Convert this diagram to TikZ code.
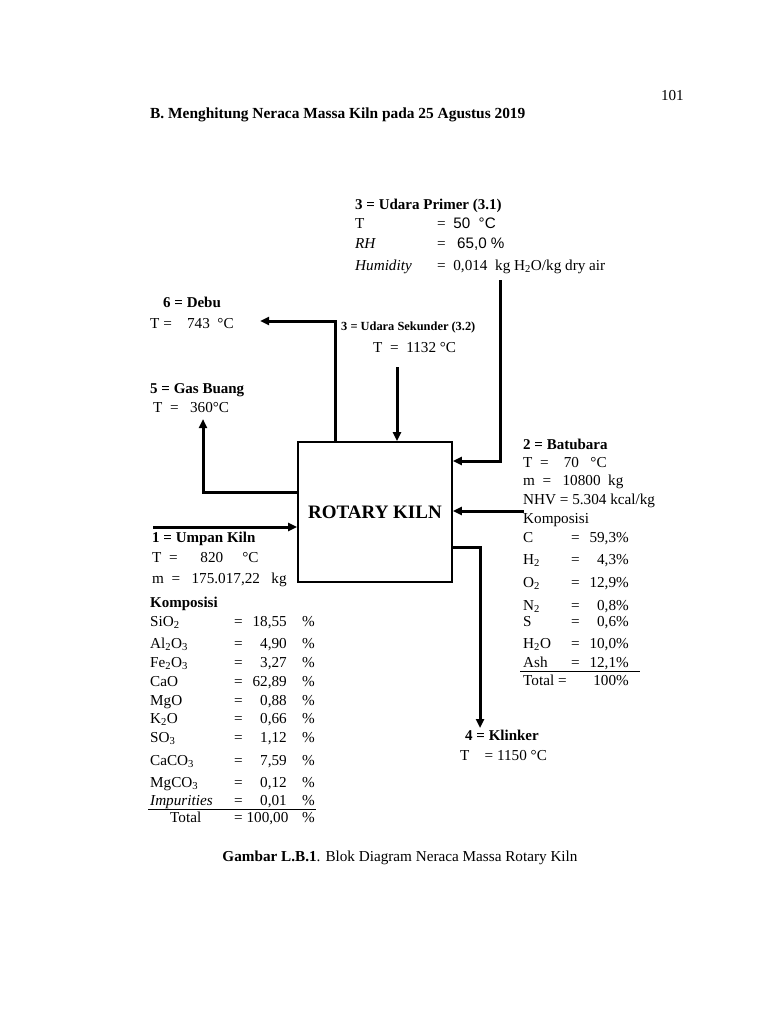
\documentclass[tikz,border=0pt]{standalone}
\usepackage{fontspec}
\setmainfont{Liberation Serif}
\newfontfamily\arialf{Liberation Sans}
\usetikzlibrary{arrows.meta}
\begin{document}
\begin{tikzpicture}[x=1pt,y=-1pt,
  txt/.style={anchor=base west,inner sep=0pt,font=\fontsize{15.2}{16}\selectfont},
  txr/.style={anchor=base east,inner sep=0pt,font=\fontsize{15.2}{16}\selectfont},
  hd/.style={anchor=base west,inner sep=0pt,font=\fontsize{15}{16}\selectfont\bfseries},
  flow/.style={line width=3pt,-{Triangle[length=9pt,width=8pt]}}]
\useasboundingbox (0,0) rectangle (768,1024);
% page number and title
\node[txr] (pg) at (684,101) {101};
\node[hd,font=\fontsize{15.4}{16}\selectfont\bfseries] (title) at (150,119) {B. Menghitung Neraca Massa Kiln pada 25 Agustus 2019};
% kiln box
\node[draw,line width=1.8pt,minimum width=154pt,minimum height=140pt,inner sep=0pt,
  font=\fontsize{19}{20}\selectfont\bfseries] (kiln) at (375,512) {ROTARY KILN};
% Udara primer
\node[hd] (up) at (355,210) {3 = Udara Primer (3.1)};
\node[txt] (upT) at (355,229) {T};
\node[txt] (upTv) at (437,229) {=\ \ {\arialf 50\ \ °C}};
\node[txt] (upR) at (355,248) {\itshape RH};
\node[txt] (upRv) at (437,248) {=\ \ \ {\arialf 65,0 \%}};
\node[txt] (upH) at (355,270) {\itshape Humidity};
\node[txt] (upHv) at (437,270) {=\ \ 0,014\ \ kg H\textsubscript{2}O/kg dry air};
% Debu
\node[hd] (db) at (163,307) {6 = Debu};
\node[txt] (dbT) at (150,328) {T =\ \ \ \ 743\ \ °C};
% Udara sekunder
\node[hd,font=\fontsize{12.4}{13}\selectfont\bfseries] (us) at (341,330) {3 = Udara Sekunder (3.2)};
\node[txt] (usT) at (373,352) {T\ \ =\ \ 1132 °C};
% Gas buang
\node[hd] (gb) at (150,393) {5 = Gas Buang};
\node[txt] (gbT) at (153,412) {T\ \ =\ \ \ 360°C};
% Batubara
\node[hd] (bb) at (523,449) {2 = Batubara};
\node[txt] (bbT) at (523,467) {T\ \ =\ \ \ \ 70\ \ \ °C};
\node[txt] (bbm) at (523,485) {m\ \ =\ \ \ 10800\ \ kg};
\node[txt] (bbN) at (523,504) {NHV = 5.304 kcal/kg};
\node[txt] (bbK) at (523,523) {Komposisi};
\foreach \n/\v/\y [count=\i] in {C/{59,3\%}/542, H\textsubscript{2}/{4,3\%}/564, O\textsubscript{2}/{12,9\%}/587, N\textsubscript{2}/{0,8\%}/610, S/{0,6\%}/626, H\textsubscript{2}O/{10,0\%}/648, Ash/{12,1\%}/667}{
  \node[txt] (bbn\i) at (523,\y) {\n};
  \node[txt] (bbe\i) at (571,\y) {=};
  \node[txr] (bbv\i) at (629,\y) {\v};
}
\coordinate (bbl1) at (520,671);
\coordinate (bbl2) at (640,671);
\draw[line width=0.9pt] (bbl1) -- (bbl2);
\node[txt] (bbtot) at (523,685) {Total =};
\node[txr] (bbtotv) at (629,685) {100\%};
% Umpan kiln
\node[hd] (uk) at (152,542) {1 = Umpan Kiln};
\node[txt] (ukT) at (152,562) {T\ \ =\ \ \ \ \ \ 820\ \ \ \ \ °C};
\node[txt] (ukm) at (152,583) {m\ \ =\ \ \ 175.017,22\ \ \ kg};
\node[hd] (ukK) at (150,607) {Komposisi};
\foreach \n/\v/\y [count=\i] in {SiO\textsubscript{2}/{18,55}/626, Al\textsubscript{2}O\textsubscript{3}/{4,90}/648, Fe\textsubscript{2}O\textsubscript{3}/{3,27}/667, CaO/{62,89}/686, MgO/{0,88}/705, K\textsubscript{2}O/{0,66}/723, SO\textsubscript{3}/{1,12}/742, CaCO\textsubscript{3}/{7,59}/765, MgCO\textsubscript{3}/{0,12}/787, \textit{Impurities}/{0,01}/805}{
  \node[txt] (ukn\i) at (150,\y) {\n};
  \node[txt] (uke\i) at (234,\y) {=};
  \node[txr] (ukv\i) at (287,\y) {\v};
  \node[txt] (ukp\i) at (302,\y) {\%};
}
\coordinate (ukl1) at (148,809);
\coordinate (ukl2) at (316,809);
\draw[line width=0.9pt] (ukl1) -- (ukl2);
\node[txt] (uktot) at (170,822) {Total};
\node[txt] (uktote) at (234,822) {= 100,00};
\node[txt] (uktotp) at (302,822) {\%};
% Klinker
\node[hd] (kl) at (465,740) {4 = Klinker};
\node[txt] (klT) at (460,760) {T\ \ \ \ = 1150 °C};
% caption
\node[anchor=base,inner sep=0pt,font=\fontsize{15.2}{16}\selectfont] (cap) at (400,861) {\textbf{Gambar L.B.1}. Blok Diagram Neraca Massa Rotary Kiln};
% connectors
\coordinate (debuA) at (335,321);
\coordinate (debuE) at (260,321);
\draw[flow] (kiln.north west -| debuA) -- (debuA) -- (debuE);
\coordinate (usS) at (397,367);
\draw[flow] (usS) -- (usS |- kiln.north);
\coordinate (gbA) at (203,492);
\coordinate (gbE) at (203,419);
\draw[flow] (kiln.west |- gbA) -- (gbA) -- (gbE);
\coordinate (ukS) at (153,527);
\draw[flow] (ukS) -- (ukS -| kiln.west);
\coordinate (upS) at (500,280);
\coordinate (upA) at (500,461);
\draw[flow] (upS) -- (upA) -- (upA -| kiln.east);
\coordinate (bbS) at (524,511);
\draw[flow] (bbS) -- (bbS -| kiln.east);
\coordinate (klA) at (480,547);
\coordinate (klE) at (480,728);
\draw[flow] (kiln.east |- klA) -- (klA) -- (klE);
\end{tikzpicture}
\end{document}
